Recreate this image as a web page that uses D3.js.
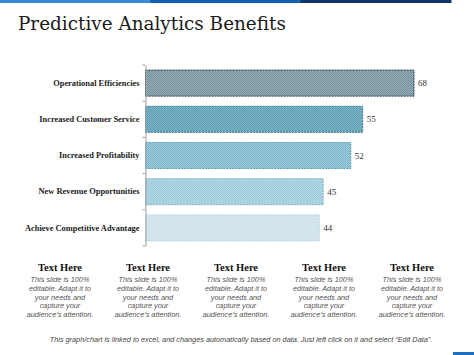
<!DOCTYPE html>
<html><head><meta charset="utf-8">
<script src="https://cdn.jsdelivr.net/npm/d3@7"></script>
<style>
html,body{margin:0;padding:0;background:#fff;}
svg{display:block;}
</style></head>
<body>
<script>
const categories = ["Operational Efficiencies","Increased Customer Service","Increased Profitability","New Revenue Opportunities","Achieve Competitive Advantage"];
const values = [68,55,52,45,44];
const columnHeads = ["Text Here","Text Here","Text Here","Text Here","Text Here"];
const columnBody = ["This slide is 100%","editable. Adapt it to","your needs and","capture your","audience's attention."];
const footerText = "This graph/chart is linked to excel, and changes automatically based on data. Just left click on it and select \u201CEdit Data\u201D.";
const titleText = "Predictive Analytics Benefits";

const palette = [
  {base:"#98aeb7", dot:"#73909c", stroke:"#1d3b52"},
  {base:"#7fb6c8", dot:"#5c9ab0", stroke:"#3a7a98"},
  {base:"#9bcbdb", dot:"#7fb8cb", stroke:"#5b9cba"},
  {base:"#b5d9e5", dot:"#9cc9d8", stroke:"#7cb2c8"},
  {base:"#dbebf0", dot:"#c8dfe7", stroke:"#b4d3df"}
];

const W = 474, H = 355;
const svg = d3.select("body").append("svg").attr("width", W).attr("height", H);

// top color strip
const strip = ["#3a8ad6","#1062b0","#0c3567"];
const sx = d3.scaleBand().domain(d3.range(3)).range([0,451]);
svg.selectAll("rect.strip").data(strip).join("rect")
  .attr("x",(d,i)=>sx(i)).attr("y",0).attr("width",sx.bandwidth()+0.5).attr("height",3).attr("fill",d=>d);
svg.append("rect").attr("x",453).attr("y",352).attr("width",21).attr("height",3).attr("fill","#1f6fc0");

// title
svg.append("text").attr("x",18).attr("y",30)
  .attr("font-family","'DejaVu Serif', 'Liberation Serif', serif")
  .attr("font-size",18.4).attr("fill","#1a1a1a").text(titleText);

// patterns
const defs = svg.append("defs");
palette.forEach((p,i)=>{
  const pat = defs.append("pattern").attr("id","pat"+i).attr("patternUnits","userSpaceOnUse")
    .attr("width",2).attr("height",2);
  pat.append("rect").attr("width",2).attr("height",2).attr("fill",p.base);
  pat.append("rect").attr("x",0).attr("y",0).attr("width",1).attr("height",1).attr("fill",p.dot);
  pat.append("rect").attr("x",1).attr("y",1).attr("width",1).attr("height",1).attr("fill",p.dot);
});

const x0 = 145.5;
const x = d3.scaleLinear().domain([0,68]).range([x0,414]);
const y = d3.scaleBand().domain(categories).range([65,246]).paddingInner(0.28).paddingOuter(0.14);

const g = svg.append("g");
g.selectAll("rect.bar").data(values).join("rect")
  .attr("x",x(0)).attr("y",(d,i)=>y(categories[i]))
  .attr("width",d=>x(d)-x(0)).attr("height",y.bandwidth())
  .attr("fill",(d,i)=>`url(#pat${i})`)
  .attr("stroke",(d,i)=>palette[i].stroke).attr("stroke-width",1)
  .attr("stroke-dasharray","2,1");

// value labels
g.selectAll("text.val").data(values).join("text")
  .attr("x",d=>x(d)+4).attr("y",(d,i)=>y(categories[i])+y.bandwidth()/2)
  .attr("dy","0.35em").attr("font-family","'Liberation Serif', serif")
  .attr("font-size",9).attr("fill","#333").text(d=>d);

// axis
const axis = d3.axisLeft(y).tickSize(0).tickPadding(6);
const ag = svg.append("g").attr("transform",`translate(${x0},0)`).call(axis);
ag.select(".domain").attr("stroke","#a0a0a0");
ag.selectAll("text").attr("font-family","'Liberation Serif', serif").attr("font-weight","bold")
  .attr("font-size",8.4).attr("fill","#222");
// boundary ticks
const bounds = d3.range(categories.length+1).map(i=>65 + i*(181/categories.length));
ag.selectAll("line.bt").data(bounds).join("line").attr("class","bt")
  .attr("x1",-3).attr("x2",0).attr("y1",d=>d).attr("y2",d=>d).attr("stroke","#a0a0a0");

// bottom columns
const cx = d3.scalePoint().domain(d3.range(5)).range([60,412]);
columnHeads.forEach((h,i)=>{
  const col = svg.append("g").attr("transform",`translate(${cx(i)},0)`);
  col.append("text").attr("x",0).attr("y",271).attr("text-anchor","middle")
    .attr("font-family","'Liberation Serif', serif").attr("font-weight","bold")
    .attr("font-size",10.5).attr("fill","#111").text(h);
  col.selectAll("text.b").data(columnBody).join("text").attr("class","b")
    .attr("x",0).attr("y",(d,j)=>282+j*8.8).attr("text-anchor","middle")
    .attr("font-family","'Liberation Sans', Arial, sans-serif").attr("font-style","italic")
    .attr("font-size",7.3).attr("fill","#555").text(d=>d);
});

svg.append("text").attr("x",241).attr("y",341.5).attr("text-anchor","middle")
  .attr("font-family","'Liberation Sans', Arial, sans-serif").attr("font-style","italic")
  .attr("font-size",7.3).attr("fill","#444").text(footerText);
</script>
</body></html>
